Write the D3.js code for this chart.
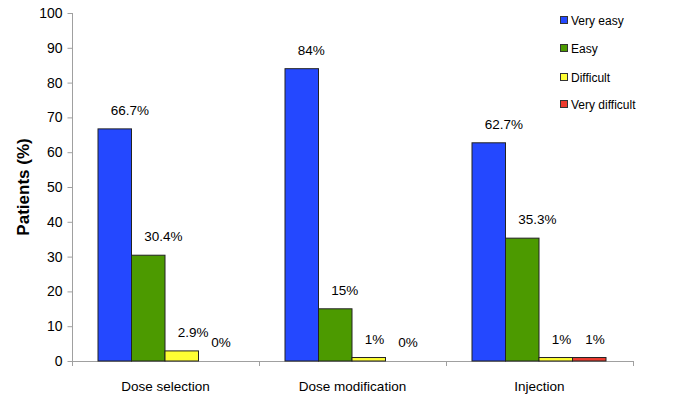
<!DOCTYPE html>
<meta charset="utf-8">
<style>
  body { margin: 0; background: #fff; }
  text { font-family: "Liberation Sans", Arial, sans-serif; fill: #000; }
  .axis path, .axis line { stroke: #a0a0a0; }
  .axis text { font-size: 14px; }
  .val { font-size: 13.5px; }
  .legend text { font-size: 12px; }
</style>
<body>
<script src="https://cdn.jsdelivr.net/npm/d3@7"></script>
<script>
var categories = ["Dose selection", "Dose modification", "Injection"];
var series = ["Very easy", "Easy", "Difficult", "Very difficult"];
var colors = ["#2448ff", "#4c9a00", "#ffff33", "#ee3b2e"];
var values = [
  [66.7, 30.4, 2.9, 0],
  [84, 15, 1, 0],
  [62.7, 35.3, 1, 1]
];
var labels = [
  ["66.7%", "30.4%", "2.9%", "0%"],
  ["84%", "15%", "1%", "0%"],
  ["62.7%", "35.3%", "1%", "1%"]
];
var yTicks = [0, 10, 20, 30, 40, 50, 60, 70, 80, 90, 100];

var width = 673, height = 396;
var plotL = 72, plotR = 633, plotT = 13, plotB = 361;

var svg = d3.select("body").append("svg")
    .attr("width", width)
    .attr("height", height);

var x = d3.scaleBand().domain(categories).range([plotL, plotR]).paddingInner(0).paddingOuter(0);
var xs = d3.scaleBand().domain(series).range([26, x.bandwidth() - 27]);
var y = d3.scaleLinear().domain([0, 100]).range([plotB, plotT]);

// y axis
var yAxis = svg.append("g").attr("class", "axis")
    .attr("transform", "translate(" + (plotL + 0.5) + ",0)")
    .call(d3.axisLeft(y).tickValues(yTicks).tickSize(5).tickPadding(5));
yAxis.select(".domain").attr("d", "M0," + plotT + "V" + plotB);

// x axis: ticks at category boundaries
var xg = svg.append("g").attr("class", "axis");
xg.append("line").attr("x1", plotL).attr("x2", plotR)
    .attr("y1", plotB + 0.5).attr("y2", plotB + 0.5);
var bounds = categories.map(function(c) { return x(c); }).concat([plotR]);
xg.selectAll(".tk").data(bounds).enter().append("line")
    .attr("x1", function(d) { return Math.round(d) + 0.5; })
    .attr("x2", function(d) { return Math.round(d) + 0.5; })
    .attr("y1", plotB).attr("y2", plotB + 5);
xg.selectAll(".cat").data(categories).enter().append("text")
    .attr("x", function(d) { return x(d) + x.bandwidth() / 2; })
    .attr("y", plotB + 30)
    .attr("text-anchor", "middle")
    .style("font-size", "13.5px")
    .text(function(d) { return d; });

// y label
svg.append("text")
    .attr("transform", "translate(29," + ((plotT + plotB) / 2) + ") rotate(-90)")
    .attr("text-anchor", "middle")
    .style("font-size", "17px")
    .style("font-weight", "bold")
    .text("Patients (%)");

// bars
var groups = svg.append("g").selectAll("g").data(categories).enter().append("g")
    .attr("transform", function(d) { return "translate(" + x(d) + ",0)"; });

groups.each(function(c, ci) {
  var g = d3.select(this);
  series.forEach(function(s, si) {
    var v = values[ci][si];
    if (v > 0) {
      g.append("rect")
        .attr("x", xs(s))
        .attr("y", y(v))
        .attr("width", xs.bandwidth())
        .attr("height", y(0) - y(v))
        .attr("fill", colors[si])
        .attr("stroke", "#222")
        .attr("stroke-width", 1);
    }
    g.append("text").attr("class", "val")
      .attr("x", xs(s) + xs.bandwidth() / 2 - 4)
      .attr("y", y(v) - 14)
      .text(labels[ci][si]);
  });
});

// legend
var legend = svg.append("g").attr("class", "legend");
var legY = [20, 48, 77, 104];
series.forEach(function(s, i) {
  legend.append("rect")
    .attr("x", 560.5).attr("y", legY[i] - 3.5)
    .attr("width", 7).attr("height", 7)
    .attr("fill", colors[i]).attr("stroke", "#333");
  legend.append("text")
    .attr("x", 571).attr("y", legY[i] + 4.5)
    .text(s);
});
</script>
